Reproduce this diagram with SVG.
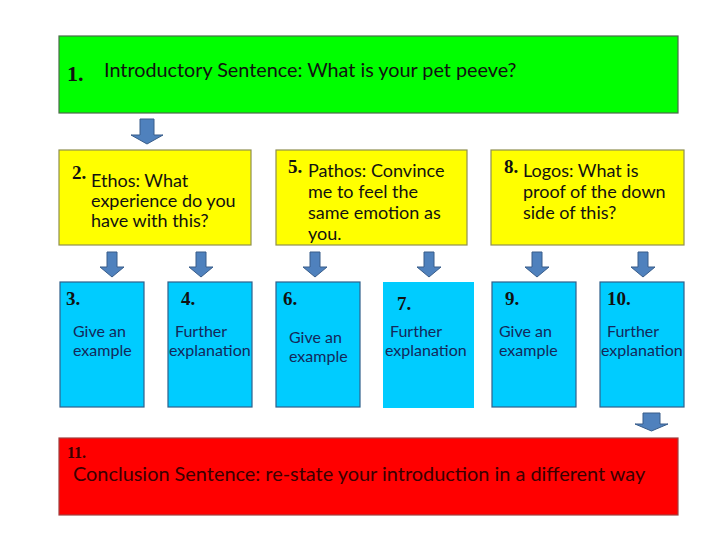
<svg xmlns="http://www.w3.org/2000/svg" width="720" height="540" viewBox="0 0 720 540">
<style>
.num{font-family:"Liberation Serif","Times New Roman",serif;font-weight:bold;fill:#111}
.t{font-family:Lato,"Open Sans",sans-serif;fill:#111}
.yt{font-family:Lato,"Open Sans",sans-serif;fill:#111;font-size:18px}
.b{fill:#00ccff;stroke:#2f5f8a;stroke-width:1.2}
.y{fill:#ffff00;stroke:#8f8f50;stroke-width:1.2}
.bt{font-family:Lato,"Open Sans",sans-serif;fill:#14285a;font-size:16px}
.arr{fill:#4f81bd;stroke:#385d8a;stroke-width:1}
</style>
<defs>
<path id="sa" d="M-5,0 H5 V15 H12 L0,25 L-12,15 H-5 Z"/>
</defs>
<rect width="720" height="540" fill="#ffffff"/>

<g id="n1">
<rect x="59" y="36" width="619" height="77" fill="#00ff00" stroke="#4a6a4a" stroke-width="1.2"/>
<text class="num" x="67" y="81" font-size="22">1.</text>
<text class="t" x="104" y="77" font-size="19.8">Introductory Sentence: What is your pet peeve?</text>
</g>

<g id="n2">
<rect class="y" x="59" y="150" width="192" height="95"/>
<text class="num" x="72" y="179" font-size="19">2.</text>
<text class="yt" x="91" y="187">Ethos: What</text>
<text class="yt" x="91" y="207">experience do you</text>
<text class="yt" x="91" y="227">have with this?</text>
</g>

<g id="n5">
<rect class="y" x="276" y="150" width="191" height="95"/>
<text class="num" x="288" y="173" font-size="19">5.</text>
<text class="yt" x="308" y="177">Pathos: Convince</text>
<text class="yt" x="308" y="198">me to feel the</text>
<text class="yt" x="308" y="219">same emotion as</text>
<text class="yt" x="308" y="240">you.</text>
</g>

<g id="n8">
<rect class="y" x="491" y="150" width="193" height="95"/>
<text class="num" x="504" y="173" font-size="19">8.</text>
<text class="yt" x="523" y="177">Logos: What is</text>
<text class="yt" x="523" y="198">proof of the down</text>
<text class="yt" x="523" y="219">side of this?</text>
</g>

<g id="n3">
<rect class="b" x="60" y="282" width="84" height="125"/>
<text class="num" x="66" y="305" font-size="19">3.</text>
<text class="bt" x="73" y="337">Give an</text>
<text class="bt" x="73" y="356">example</text>
</g>
<g id="n4">
<rect class="b" x="168" y="282" width="84" height="125"/>
<text class="num" x="181" y="305" font-size="19">4.</text>
<text class="bt" x="175" y="337">Further</text>
<text class="bt" x="169" y="356">explanation</text>
</g>
<g id="n6">
<rect class="b" x="276" y="282" width="84" height="125"/>
<text class="num" x="283" y="305" font-size="19">6.</text>
<text class="bt" x="289" y="343">Give an</text>
<text class="bt" x="289" y="362">example</text>
</g>
<g id="n7">
<rect x="383" y="282" width="91" height="126" fill="#00ccff"/>
<text class="num" x="397" y="310" font-size="19">7.</text>
<text class="bt" x="390" y="337">Further</text>
<text class="bt" x="385" y="356">explanation</text>
</g>
<g id="n9">
<rect class="b" x="492" y="282" width="84" height="125"/>
<text class="num" x="505" y="305" font-size="19">9.</text>
<text class="bt" x="499" y="337">Give an</text>
<text class="bt" x="499" y="356">example</text>
</g>
<g id="n10">
<rect class="b" x="600" y="282" width="84" height="125"/>
<text class="num" x="607" y="305" font-size="19">10.</text>
<text class="bt" x="607" y="337">Further</text>
<text class="bt" x="601" y="356">explanation</text>
</g>

<g id="n11">
<rect x="59" y="438" width="619" height="77" fill="#ff0000" stroke="#a04040" stroke-width="1.2"/>
<text class="num" x="67" y="458" font-size="16" style="fill:#3a0000">11.</text>
<text class="t" x="73" y="481" font-size="19.9" style="fill:#3a0000">Conclusion Sentence: re-state your introduction in a different way</text>
</g>

<g id="connectors">
<path class="arr" d="M140,119 H154 V135 H163 L147,144 L131,135 H140 Z"/>
<use href="#sa" class="arr" transform="translate(112,252)"/>
<use href="#sa" class="arr" transform="translate(201,252)"/>
<use href="#sa" class="arr" transform="translate(315,252)"/>
<use href="#sa" class="arr" transform="translate(429,252)"/>
<use href="#sa" class="arr" transform="translate(537,252)"/>
<use href="#sa" class="arr" transform="translate(643,252)"/>
<path class="arr" d="M643,413 H660 V424 H668 L651.5,431 L635,424 H643 Z"/>
</g>
</svg>
